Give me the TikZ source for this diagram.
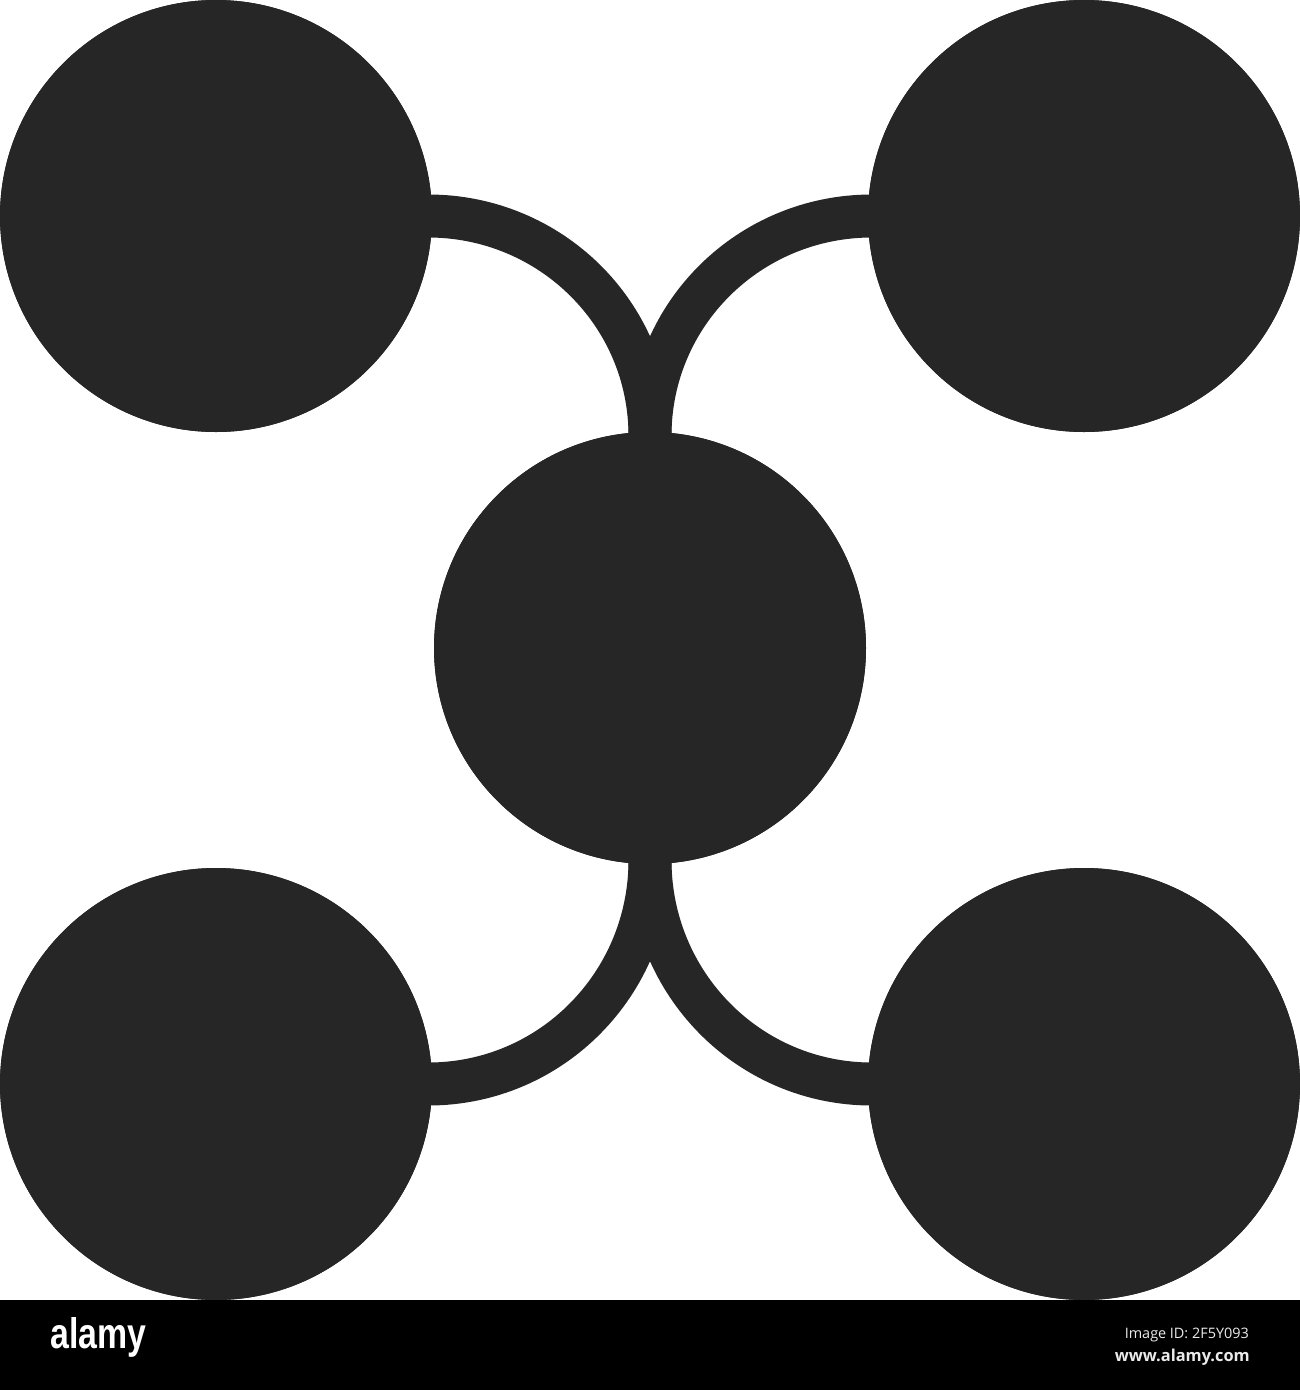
\documentclass[tikz,border=0pt]{standalone}
\usepackage{fontspec}
\setmainfont{Open Sans}
\newfontfamily\logofont{Liberation Sans}
\definecolor{ink}{RGB}{38,38,38}
\tikzset{
  blob/.style={circle, fill=ink, draw=none, inner sep=0pt, minimum size=432pt},
  conn/.style={draw=ink, line width=43pt, line cap=butt},
}
\begin{document}
\begin{tikzpicture}[x=1pt, y=-1pt]
\useasboundingbox (0,0) rectangle (1300,1390);
\fill[white] (0,0) rectangle (1300,1390);
% nodes (coordinates only, drawn later on top of connectors)
\path (216,216)   node[blob] (tl) {}
      (1084,216)  node[blob] (tr) {}
      (650,648)   node[blob] (c)  {}
      (216,1084)  node[blob] (bl) {}
      (1084,1084) node[blob] (br) {};
% connectors
\draw[conn] ([xshift=-4pt]tl.east) to[out=0,in=90]  ([yshift=-4pt]c.north);
\draw[conn] ([xshift=4pt]tr.west)  to[out=180,in=90] ([yshift=-4pt]c.north);
\draw[conn] ([xshift=-4pt]bl.east) to[out=0,in=-90] ([yshift=4pt]c.south);
\draw[conn] ([xshift=4pt]br.west)  to[out=180,in=-90] ([yshift=4pt]c.south);
% redraw circles on top
\path (216,216)   node[blob] {}
      (1084,216)  node[blob] {}
      (650,648)   node[blob] {}
      (216,1084)  node[blob] {}
      (1084,1084) node[blob] {};
% bottom bar
\fill[black] (0,1300) rectangle (1300,1390) coordinate (barend);
\node[anchor=south west, inner sep=0pt, text=white] (logo) at (50,1358)
  {\resizebox{96pt}{31pt}{\logofont\bfseries alamy}};
\node[anchor=base east, inner sep=0pt, text=white!92!black] (imgid) at (1249,1338)
  {\resizebox{124pt}{!}{Image ID: 2F5Y093}};
\node[anchor=base east, inner sep=0pt, text=white!92!black] (www) at (1250,1361)
  {\resizebox{135pt}{!}{\bfseries www.alamy.com}};
\end{tikzpicture}
\end{document}
